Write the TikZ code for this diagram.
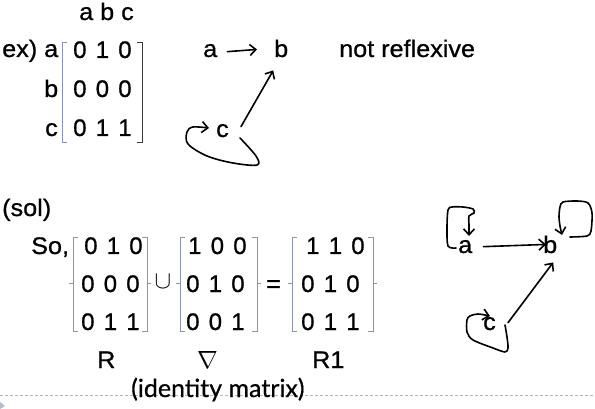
\documentclass[tikz,border=0pt]{standalone}
\usepackage{fontspec}
\setmainfont{Liberation Sans}[FakeStretch=1.05,FakeBold=0.8]
\newfontfamily\digfont{Liberation Sans}[FakeBold=0.8]
\newfontfamily\gillfont{Lato}[FakeBold=0.6]
\newcommand\drow[3]{#1\hspace{9.2pt}#2\hspace{9.2pt}#3}
\usetikzlibrary{arrows.meta}
\definecolor{brkgray}{HTML}{8A94AE}
\definecolor{brkdark}{HTML}{3C3C3C}
\definecolor{dashblue}{HTML}{9DBBD8}
\definecolor{cornergray}{HTML}{B4BCCB}
\begin{document}
\begin{tikzpicture}[x=1pt,y=-1pt,
  txt/.style={inner sep=0pt, anchor=base west, font=\fontsize{24}{28}\selectfont},
  dig/.style={inner sep=0pt, anchor=base west, font=\digfont\fontsize{24}{28}\selectfont},
  arr/.style={line width=1.6pt, line cap=round, -{Straight Barb[length=6pt,width=11pt]}},
  loopline/.style={line width=1.6pt, line cap=round, -{Straight Barb[length=6pt,width=11pt]}},
  brk/.style={line width=1pt, draw=brkgray},
  brkd/.style={line width=1pt, draw=brkdark}]
\useasboundingbox (0,0) rectangle (595,409);

% ---------- example ----------
\node[txt] (hdr) at (79,20) {a b c};
\node[txt] (ex) at (2,57) {ex) a};
\node[txt] (lb) at (44,97) {b};
\node[txt] (lc) at (45,136) {c};
\node[dig] (m1) at (73,58) {\drow010};
\node[dig] (m2) at (73,97) {\drow000};
\node[dig] (m3) at (73,136) {\drow011};
\draw[brk] (67,43) -- (62,43) -- (62,143) -- (67,143);
\draw[brkd] (137,43) -- (142,43) -- (142,143) -- (137,143);

% top graph
\node[txt] (ta) at (203,57) {a};
\node[txt] (tb) at (274,57) {b};
\node[txt] (nr) at (339,57) {not reflexive};
\node[txt] (tc) at (216,137) {c};
\draw[arr] ([xshift=10pt,yshift=-1pt]ta.east) -- ([xshift=-17pt,yshift=-1pt]tb.west);
\draw[arr] ([shift={(12pt,4pt)}]tc.east) -- ([shift={(-8pt,-13pt)}]tb.south);
\begin{scope}[shift={(tc.base west)}]
\draw[loopline] plot[smooth, tension=0.55] coordinates
  {(24,1) (40,19) (41,28) (17,26) (-9,19) (-28,7) (-29,-5) (-23,-10) (-7,-9)};
\end{scope}

% ---------- solution ----------
\node[txt] (sol) at (2,216) {(sol)};
\node[txt] (so) at (31,254) {So,};
% R
\node[dig] (r1) at (84,254) {\drow010};
\node[dig] (r2) at (81,292) {\drow000};
\node[dig] (r3) at (81,330) {\drow011};
\draw[brk] (78,238) -- (73,238) -- (73,331) -- (78,331);
\draw[brk] (69,283) -- (73,283);
\draw[brk] (142,238) -- (147,238) -- (147,331) -- (142,331);
\draw[brk] (147,283) -- (151,283);
\node[inner sep=0pt, font=\fontsize{30}{34}\selectfont] (cup) at (163,282) {$\cup$};
% identity
\node[dig] (i1) at (188,254) {\drow100};
\node[dig] (i2) at (186,292) {\drow010};
\node[dig] (i3) at (186,330) {\drow001};
\draw[brk] (185,238) -- (180,238) -- (180,331) -- (185,331);
\draw[brk] (176,283) -- (180,283);
\draw[brk] (252,238) -- (257,238) -- (257,331) -- (252,331);
\draw[brk] (257,283) -- (261,283);
\node[txt] (eq) at (266,292) {=};
% R1
\node[dig] (s1) at (306,254) {\drow110};
\node[dig] (s2) at (301,292) {\drow010};
\node[dig] (s3) at (301,330) {\drow011};
\draw[brk] (297,238) -- (292,238) -- (292,331) -- (297,331);
\draw[brk] (288,283) -- (292,283);
\draw[brk] (368,238) -- (373,238) -- (373,331) -- (368,331);
\draw[brk] (373,283) -- (377,283);
% labels
\node[txt] (lr) at (97,368) {R};
\node[inner sep=0pt, anchor=base west, font=\fontsize{24}{28}\selectfont] (ln) at (197,368) {$\nabla$};
\node[txt] (lr1) at (312,368) {R1};

% dashed rule and corner mark
\draw[dashblue, line width=0.8pt, dash pattern=on 3pt off 2pt] (0,395) -- (595,395);
\fill[cornergray] (0,402) -- (5,406) -- (0,409) -- cycle;
\node[inner sep=0pt, anchor=base west, font=\gillfont\fontsize{25}{29}\selectfont] (idm) at (131,397) {(identity matrix)};

% bottom-right graph
\node[txt] (ba) at (458,253) {a};
\node[txt] (bb) at (543,253) {b};
\node[txt] (bc) at (483,330) {c};
\draw[arr] ([xshift=11pt]ba.east) -- ([xshift=3pt]bb.west);
\draw[arr] ([shift={(12pt,1pt)}]bc.east) -- ([shift={(3pt,-9pt)}]bb.south);
\begin{scope}[shift={(ba.base west)}]
\draw[loopline] plot[smooth, tension=0.5] coordinates
  {(-2,-5) (-10,-7) (-11,-25) (-10,-43) (-6,-46) (5,-46) (15,-44) (16,-40) (11,-37) (11,-28) (11,-17)};
\end{scope}
\begin{scope}[shift={(bb.base west)}]
\draw[loopline] plot[smooth, tension=0.5] coordinates
  {(27,-16) (44,-17) (48,-22) (49,-40) (45,-50) (34,-52) (20,-51) (17,-46) (16,-36) (17,-27) (19,-18)};
\end{scope}
\begin{scope}[shift={(bc.base west)}]
\draw[loopline] plot[smooth, tension=0.5] coordinates
  {(22,-5) (24,7) (25,18) (22,22) (10,18) (-10,10) (-16,2) (-16,-10) (-13,-14) (-5,-16) (7,-14)};
\end{scope}
\end{tikzpicture}
\end{document}
